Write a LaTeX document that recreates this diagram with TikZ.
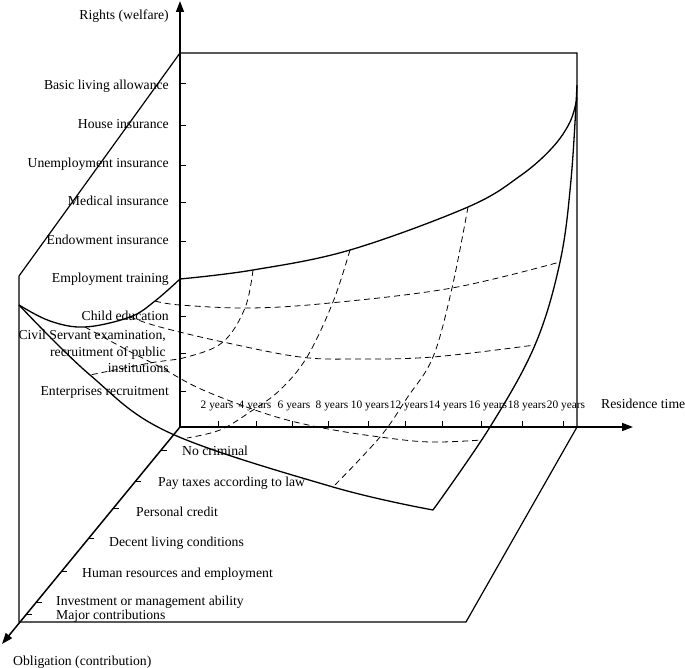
\documentclass[tikz,border=0pt]{standalone}
\usepackage{fontspec}
\setmainfont{Liberation Serif}
\usetikzlibrary{arrows.meta}
\begin{document}
\begin{tikzpicture}[x=1pt,y=-1pt,
  axis/.style={line width=1.5pt,-{Triangle[length=11pt,width=8pt]}},
  frame/.style={line width=1.2pt},
  surf/.style={line width=1.3pt,smooth,tension=0.6},
  gridline/.style={line width=0.8pt,dash pattern=on 6pt off 4pt,smooth,tension=0.6},
  tickmark/.style={line width=1pt},
  lab/.style={font=\fontsize{13.7}{15}\selectfont,inner sep=0pt},
  yr/.style={font=\fontsize{11.4}{13}\selectfont,inner sep=0pt,anchor=base}]
\useasboundingbox (0,0) rectangle (685,668);

% frame
\coordinate (O) at (180,427);
\coordinate (Ytop) at (180,1);
\coordinate (Xend) at (633,427);
\coordinate (Zend) at (2,644);
\coordinate (A) at (180,53);
\coordinate (B) at (577,53);
\coordinate (C) at (577,427);
\coordinate (D) at (19,276);
\coordinate (E) at (19,622);
\coordinate (F) at (466,622);
\draw[frame] (D) -- (A) -- (B) -- (C);
\draw[frame] (D) -- (E) -- (F) -- (C);

% axes
\draw[axis] (O) -- (Ytop);
\draw[axis] (O) -- (Xend);
\draw[axis] (O) -- (Zend);

% ticks on vertical axis
\foreach \y in {84,126,166,203,242,316,353,391}
  \draw[tickmark] (180,\y) -- (186,\y);
% ticks on time axis
\foreach \x in {218,256,292,328,368,405,442,481,522,563}
  \draw[tickmark] (\x,427) -- (\x,421);
% ticks on obligation axis
\foreach \y in {450,481,508,538,571,602,614}
  \draw[tickmark] ({180-(\y-427)*0.8256},\y) -- ++(6,0);

% surface edges
\draw[surf] plot coordinates {(19,305) (50,321) (85,327) (130,317) (155,301) (180,279)};
\draw[surf] plot coordinates {(180,279) (253,270) (350,250) (468,207) (520,176) (552,148) (570,122) (577,98)};
\draw[surf] plot coordinates {(433,510) (490,427) (535,345) (560,262) (571,180) (577,85)};
\draw[surf] plot coordinates {(19,305) (90,375) (170,433) (333,487) (433,510)};

% grid lines
\draw[gridline] plot coordinates {(155,301) (180,305) (250,308) (330,303) (452,288) (560,262)};
\draw[gridline] plot coordinates {(130,317) (160,327) (223,342) (300,357) (357,359) (433,357) (535,345)};
\draw[gridline] plot coordinates {(85,327) (127,350) (160,367) (203,390) (270,415) (323,428) (380,437) (430,442) (482,440)};
\draw[gridline] plot coordinates {(253,270) (245,308) (223,342) (187,357) (150,363) (90,375)};
\draw[gridline] plot coordinates {(350,250) (333,302) (307,357) (280,390) (250,412) (220,430) (187,438)};
\draw[gridline] plot coordinates {(468,207) (452,288) (433,357) (407,398) (380,437) (333,487)};

% vertical axis labels
\node[lab,anchor=base east] (r0) at (169,19.5) {Rights (welfare)};
\node[lab,anchor=base east] (r1) at (169,89.5) {Basic living allowance};
\node[lab,anchor=base east] (r2) at (169,128.5) {House insurance};
\node[lab,anchor=base east] (r3) at (169,167.5) {Unemployment insurance};
\node[lab,anchor=base east] (r4) at (169,205.5) {Medical insurance};
\node[lab,anchor=base east] (r5) at (169,244.5) {Endowment insurance};
\node[lab,anchor=base east] (r6) at (169,282.5) {Employment training};
\node[lab,anchor=base east] (r7) at (169,320.5) {Child education};
\node[lab,anchor=base east] (r8) at (166,339.5) {Civil Servant examination,};
\node[lab,anchor=base east] (r9) at (166,356.5) {recruitment of public};
\node[lab,anchor=base east] (r10) at (169,372.5) {institutions};
\node[lab,anchor=base east] (r11) at (169,395.5) {Enterprises recruitment};

% obligation labels
\node[lab,anchor=base west] (o1) at (182,455.5) {No criminal};
\node[lab,anchor=base west] (o2) at (158,486.5) {Pay taxes according to law};
\node[lab,anchor=base west] (o3) at (136,516.5) {Personal credit};
\node[lab,anchor=base west] (o4) at (109,546.5) {Decent living conditions};
\node[lab,anchor=base west] (o5) at (82,577.5) {Human resources and employment};
\node[lab,anchor=base west] (o6) at (56,605.5) {Investment or management ability};
\node[lab,anchor=base west] (o7) at (56,619.5) {Major contributions};
\node[lab,anchor=base west] (o8) at (13,665.5) {Obligation (contribution)};

% time labels
\node[yr] (t2) at (217,408) {2 years};
\node[yr] (t4) at (255,408) {4 years};
\node[yr] (t6) at (294,408) {6 years};
\node[yr] (t8) at (332,408) {8 years};
\node[yr] (t10) at (370,408) {10 years};
\node[yr] (t12) at (409,408) {12 years};
\node[yr] (t14) at (448,408) {14 years};
\node[yr] (t16) at (488,408) {16 years};
\node[yr] (t18) at (527,408) {18 years};
\node[yr] (t20) at (566,408) {20 years};
\node[lab,anchor=base west] (rt) at (601,408.5) {Residence time};
\end{tikzpicture}
\end{document}
